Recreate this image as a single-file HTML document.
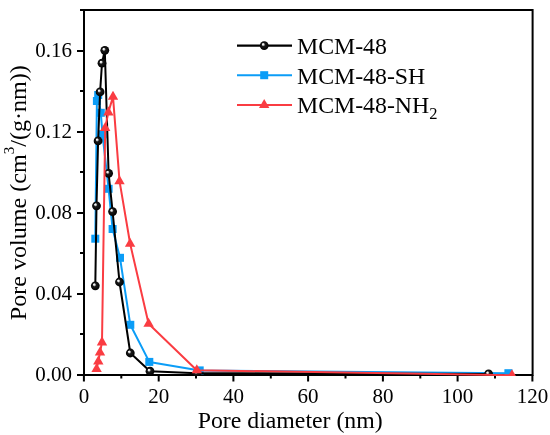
<!DOCTYPE html>
<html><head><meta charset="utf-8"><title>Pore size distribution</title>
<style>html,body{margin:0;padding:0;background:#fff;}body{width:550px;height:435px;overflow:hidden;}svg{display:block;}</style>
</head><body>
<svg width="550" height="435" viewBox="0 0 550 435"><defs><radialGradient id="sg" cx="0.5" cy="0.5" r="0.5" fx="0.34" fy="0.32"><stop offset="0" stop-color="#ffffff"/><stop offset="0.18" stop-color="#e8e8e8"/><stop offset="0.42" stop-color="#1a1a1a"/><stop offset="1" stop-color="#000"/></radialGradient><clipPath id="cp"><rect x="85" y="11" width="446.6" height="365"/></clipPath></defs>
<path d="M80,10 H533.6 M84,9 V376 M532.6,9 V376 M77,375 H533.6" stroke="#000" stroke-width="2" fill="none"/>
<path d="M77,375 H84 M77,294 H84 M77,213 H84 M77,132 H84 M77,51 H84 M80,334 H84 M80,253 H84 M80,172 H84 M80,91 H84 M83.9,375 V381.5 M158.7,375 V381.5 M233.4,375 V381.5 M308.1,375 V381.5 M382.9,375 V381.5 M457.6,375 V381.5 M532.4,375 V381.5 M121.3,375 V378.5 M196.0,375 V378.5 M270.8,375 V378.5 M345.5,375 V378.5 M420.3,375 V378.5 M495.0,375 V378.5" stroke="#000" stroke-width="2" fill="none"/>
<g clip-path="url(#cp)">
<polyline points="95.3,238.7 96.9,101.0 98.2,95.0 100.8,112.8 102.5,134.3 108.6,188.8 112.6,229.0 120.0,257.8 130.3,324.8 149.3,361.9 199.7,370.4 508.4,373.2" fill="none" stroke="#0b9df7" stroke-width="2" stroke-linejoin="round"/>
<rect x="91.3" y="234.7" width="8" height="8" fill="#0b9df7"/>
<rect x="92.9" y="97.0" width="8" height="8" fill="#0b9df7"/>
<rect x="94.2" y="91.0" width="8" height="8" fill="#0b9df7"/>
<rect x="96.8" y="108.8" width="8" height="8" fill="#0b9df7"/>
<rect x="98.5" y="130.3" width="8" height="8" fill="#0b9df7"/>
<rect x="104.6" y="184.8" width="8" height="8" fill="#0b9df7"/>
<rect x="108.6" y="225.0" width="8" height="8" fill="#0b9df7"/>
<rect x="116.0" y="253.8" width="8" height="8" fill="#0b9df7"/>
<rect x="126.3" y="320.8" width="8" height="8" fill="#0b9df7"/>
<rect x="145.3" y="357.9" width="8" height="8" fill="#0b9df7"/>
<rect x="195.7" y="366.4" width="8" height="8" fill="#0b9df7"/>
<rect x="504.4" y="369.2" width="8" height="8" fill="#0b9df7"/>
<polyline points="95.3,285.8 96.5,205.8 98.1,140.9 100.1,91.9 102.0,63.2 104.8,50.3 108.6,173.3 112.6,211.6 119.5,282.0 130.3,353.0 150.0,371.2 197.0,373.2 488.6,373.9" fill="none" stroke="#000" stroke-width="2" stroke-linejoin="round"/>
<circle cx="95.3" cy="285.8" r="4.4" fill="url(#sg)"/>
<circle cx="96.5" cy="205.8" r="4.4" fill="url(#sg)"/>
<circle cx="98.1" cy="140.9" r="4.4" fill="url(#sg)"/>
<circle cx="100.1" cy="91.9" r="4.4" fill="url(#sg)"/>
<circle cx="102.0" cy="63.2" r="4.4" fill="url(#sg)"/>
<circle cx="104.8" cy="50.3" r="4.4" fill="url(#sg)"/>
<circle cx="108.6" cy="173.3" r="4.4" fill="url(#sg)"/>
<circle cx="112.6" cy="211.6" r="4.4" fill="url(#sg)"/>
<circle cx="119.5" cy="282.0" r="4.4" fill="url(#sg)"/>
<circle cx="130.3" cy="353.0" r="4.4" fill="url(#sg)"/>
<circle cx="150.0" cy="371.2" r="4.4" fill="url(#sg)"/>
<circle cx="197.0" cy="373.2" r="4.4" fill="url(#sg)"/>
<circle cx="488.6" cy="373.9" r="4.4" fill="url(#sg)"/>
<polyline points="96.6,368.9 98.3,361.4 100.0,352.5 102.0,342.1 105.2,127.7 108.4,112.1 113.0,96.7 119.5,180.9 130.1,243.5 148.6,323.8 196.8,370.2 512.0,375.2" fill="none" stroke="#fa3c42" stroke-width="2" stroke-linejoin="round"/>
<polygon points="96.60,362.90 91.40,372.00 101.80,372.00" fill="#fa3c42"/>
<polygon points="98.30,355.45 93.10,364.55 103.50,364.55" fill="#fa3c42"/>
<polygon points="100.00,346.50 94.80,355.60 105.20,355.60" fill="#fa3c42"/>
<polygon points="102.00,336.30 96.80,345.40 107.20,345.40" fill="#fa3c42"/>
<polygon points="105.20,121.90 100.00,131.00 110.40,131.00" fill="#fa3c42"/>
<polygon points="108.40,106.30 103.20,115.40 113.60,115.40" fill="#fa3c42"/>
<polygon points="113.00,90.75 107.80,99.85 118.20,99.85" fill="#fa3c42"/>
<polygon points="119.50,175.15 114.30,184.25 124.70,184.25" fill="#fa3c42"/>
<polygon points="130.10,237.70 124.90,246.80 135.30,246.80" fill="#fa3c42"/>
<polygon points="148.60,317.75 143.40,326.85 153.80,326.85" fill="#fa3c42"/>
<polygon points="196.80,364.20 191.60,373.30 202.00,373.30" fill="#fa3c42"/>
<polygon points="512.00,369.15 506.80,378.25 517.20,378.25" fill="#fa3c42"/>
</g>
<text x="72" y="380.6" font-family="Liberation Serif, Times New Roman, serif" font-size="21" text-anchor="end">0.00</text>
<text x="72" y="299.6" font-family="Liberation Serif, Times New Roman, serif" font-size="21" text-anchor="end">0.04</text>
<text x="72" y="218.6" font-family="Liberation Serif, Times New Roman, serif" font-size="21" text-anchor="end">0.08</text>
<text x="72" y="137.6" font-family="Liberation Serif, Times New Roman, serif" font-size="21" text-anchor="end">0.12</text>
<text x="72" y="56.6" font-family="Liberation Serif, Times New Roman, serif" font-size="21" text-anchor="end">0.16</text>
<text x="83.9" y="403" font-family="Liberation Serif, Times New Roman, serif" font-size="21" text-anchor="middle">0</text>
<text x="158.7" y="403" font-family="Liberation Serif, Times New Roman, serif" font-size="21" text-anchor="middle">20</text>
<text x="233.4" y="403" font-family="Liberation Serif, Times New Roman, serif" font-size="21" text-anchor="middle">40</text>
<text x="308.1" y="403" font-family="Liberation Serif, Times New Roman, serif" font-size="21" text-anchor="middle">60</text>
<text x="382.9" y="403" font-family="Liberation Serif, Times New Roman, serif" font-size="21" text-anchor="middle">80</text>
<text x="457.6" y="403" font-family="Liberation Serif, Times New Roman, serif" font-size="21" text-anchor="middle">100</text>
<text x="532.4" y="403" font-family="Liberation Serif, Times New Roman, serif" font-size="21" text-anchor="middle">120</text>
<text x="197.7" y="427.7" font-family="Liberation Serif, Times New Roman, serif" font-size="23.8">Pore diameter (nm)</text>
<text transform="translate(25.5,320.2) rotate(-90)" font-family="Liberation Serif, Times New Roman, serif" font-size="24.1">Pore volume (cm<tspan font-size="15" dy="-11.3">3</tspan><tspan dy="11.3">/(g·nm))</tspan></text>
<line x1="237" y1="45.6" x2="292" y2="45.6" stroke="#000" stroke-width="2.2"/>
<circle cx="264.2" cy="45.6" r="4.4" fill="url(#sg)"/>
<line x1="237" y1="75.2" x2="292" y2="75.2" stroke="#0b9df7" stroke-width="2"/>
<rect x="260.2" y="71.2" width="8" height="8" fill="#0b9df7"/>
<line x1="237" y1="104.9" x2="292" y2="104.9" stroke="#fa3c42" stroke-width="2"/>
<polygon points="264.20,98.95 259.00,108.05 269.40,108.05" fill="#fa3c42"/>
<text x="297" y="53.6" font-family="Liberation Serif, Times New Roman, serif" font-size="23.8">MCM-48</text>
<text x="297" y="83.9" font-family="Liberation Serif, Times New Roman, serif" font-size="23.8">MCM-48-SH</text>
<text x="297" y="113.1" font-family="Liberation Serif, Times New Roman, serif" font-size="23.8">MCM-48-NH<tspan font-size="16.5" dy="6">2</tspan></text></svg>
</body></html>
